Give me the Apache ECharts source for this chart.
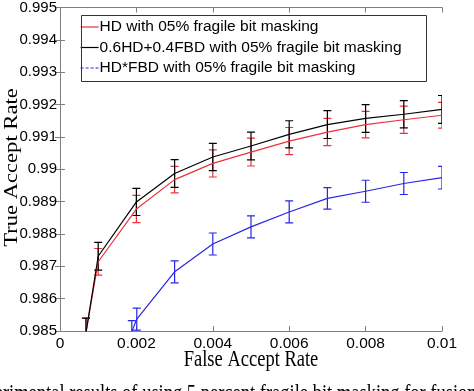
<!DOCTYPE html>
<html>
<head>
<meta charset="utf-8">
<script src="https://cdn.jsdelivr.net/npm/echarts@6/dist/echarts.min.js"></script>
<style>
html,body{margin:0;padding:0;background:#fff;}
#chart{width:474px;height:391px;}
</style>
</head>
<body>
<div id="chart"></div>
<script>
// ---- data ----
var seriesNames = ['HD with 05% fragile bit masking', '0.6HD+0.4FBD with 05% fragile bit masking', 'HD*FBD with 05% fragile bit masking'];
var xHD = [0.00068, 0.001, 0.002, 0.003, 0.004, 0.005, 0.006, 0.007, 0.008, 0.009, 0.01];
var hdValues = [0.98495, 0.98714, 0.98877, 0.98968, 0.99018, 0.99053, 0.99087, 0.99115, 0.99138, 0.99153, 0.99167];
var hdErr = [0.00045, 0.00041, 0.00042, 0.00041, 0.00042, 0.00043, 0.00042, 0.00042, 0.00041, 0.00042, 0.0004];
var fusedValues = [0.98495, 0.98731, 0.98899, 0.98987, 0.99038, 0.99072, 0.99108, 0.99138, 0.99157, 0.9917, 0.99185];
var fusedErr = [0.00045, 0.00043, 0.00042, 0.00043, 0.00042, 0.00043, 0.00042, 0.00043, 0.00043, 0.00042, 0.00043];
var xProd = [0.00188, 0.00201, 0.003, 0.004, 0.005, 0.006, 0.007, 0.008, 0.009, 0.01];
var prodValues = [0.98498, 0.98537, 0.98683, 0.98769, 0.98822, 0.98868, 0.9891, 0.98932, 0.98956, 0.98974];
var prodErr = [0.00034, 0.00034, 0.00034, 0.00034, 0.00034, 0.00034, 0.00033, 0.00034, 0.00034, 0.00035];
var xTicks = [0, 0.002, 0.004, 0.006, 0.008, 0.01];
var yTicks = [0.985, 0.986, 0.987, 0.988, 0.989, 0.99, 0.991, 0.992, 0.993, 0.994, 0.995];
var xTitle = 'False Accept Rate';
var yTitle = 'True Accept Rate';
var caption = 'experimental results of using 5 percent fragile bit masking for fusion';

var colors = ['#e8323c', '#000000', '#2626e6'];

function pairs(xs, ys) { return xs.map(function (x, i) { return [x, ys[i]]; }); }
function errData(xs, ys, es) { return xs.map(function (x, i) { return [x, ys[i] - es[i], ys[i] + es[i]]; }); }

function errSeries(data, color) {
  return {
    type: 'custom',
    clip: true,
    silent: true,
    z: 3,
    data: data,
    renderItem: function (params, api) {
      var x = api.value(0);
      var lo = api.coord([x, api.value(1)]);
      var hi = api.coord([x, api.value(2)]);
      var hw = 4;
      var st = { stroke: color, lineWidth: 1.2, fill: null };
      return {
        type: 'group',
        children: [
          { type: 'line', shape: { x1: lo[0], y1: lo[1], x2: hi[0], y2: hi[1] }, style: st },
          { type: 'line', shape: { x1: lo[0] - hw, y1: lo[1], x2: lo[0] + hw, y2: lo[1] }, style: st },
          { type: 'line', shape: { x1: hi[0] - hw, y1: hi[1], x2: hi[0] + hw, y2: hi[1] }, style: st }
        ]
      };
    }
  };
}

var fmtY = function (v) { return String(parseFloat(v.toFixed(3))); };
var fmtX = function (v) { return String(parseFloat(v.toFixed(3))); };

var axisLineStyle = { color: '#7f7f7f', width: 1 };
var chart = echarts.init(document.getElementById('chart'), null, { renderer: 'canvas' });
var option = {
  animation: false,
  backgroundColor: '#fff',
  grid: { left: 60, right: 32, top: 7, bottom: 60 },
  xAxis: [
    { type: 'value', min: xTicks[0], max: xTicks[xTicks.length - 1], interval: 0.002, position: 'bottom',
      axisLine: { lineStyle: axisLineStyle }, axisTick: { inside: true, length: 5, lineStyle: axisLineStyle },
      splitLine: { show: false },
      axisLabel: { color: '#000', fontFamily: 'Liberation Sans', fontSize: 15.5, margin: 5, formatter: fmtX } },
    { type: 'value', min: xTicks[0], max: xTicks[xTicks.length - 1], interval: 0.002, position: 'top',
      axisLine: { lineStyle: axisLineStyle }, axisTick: { inside: true, length: 5, lineStyle: axisLineStyle },
      splitLine: { show: false }, axisLabel: { show: false } }
  ],
  yAxis: [
    { type: 'value', min: yTicks[0], max: yTicks[yTicks.length - 1], interval: 0.001, position: 'left',
      axisLine: { show: true, lineStyle: axisLineStyle }, axisTick: { show: true, inside: true, length: 5, lineStyle: axisLineStyle },
      splitLine: { show: false },
      axisLabel: { color: '#000', fontFamily: 'Liberation Sans', fontSize: 15, margin: 3, formatter: fmtY } },
    { type: 'value', min: yTicks[0], max: yTicks[yTicks.length - 1], interval: 0.001, position: 'right',
      axisLine: { show: true, lineStyle: axisLineStyle }, axisTick: { show: true, inside: true, length: 5, lineStyle: axisLineStyle },
      splitLine: { show: false }, axisLabel: { show: false } }
  ],
  legend: {
    left: 80, top: 18.5, orient: 'vertical',
    itemWidth: 18, itemHeight: 14, itemGap: 3.5,
    padding: 0,
    itemStyle: { opacity: 0 },
    lineStyle: { width: 1.2 },
    textStyle: { fontFamily: 'Liberation Sans', fontSize: 15.5, color: '#000', lineHeight: 17, padding: [0, 0, 0, -4] },
    data: [
      { name: seriesNames[0] },
      { name: seriesNames[1] },
      { name: seriesNames[2], lineStyle: { type: [3, 2], width: 1.2 } }
    ]
  },
  graphic: [
    { type: 'rect', left: 79, top: 13, shape: { width: 345, height: 66 }, style: { fill: 'none', stroke: '#333', lineWidth: 1 }, z: 100 },
    { type: 'text', x: 251, y: 360, scaleY: 1.2, style: { text: xTitle, font: '18.5px "Liberation Serif"', fill: '#000', align: 'center', verticalAlign: 'middle' } },
    { type: 'text', x: 12, y: 167.5, rotation: Math.PI / 2, scaleX: 1.22, style: { text: yTitle, font: '18.5px "Liberation Serif"', fill: '#000', align: 'center', verticalAlign: 'middle' } },
    { type: 'text', x: -32, y: 383, scaleY: 1.2, style: { text: caption, font: '18.5px "Liberation Serif"', fill: '#000' } }
  ],
  series: [
    { name: seriesNames[0], type: 'line', data: pairs(xHD, hdValues), symbol: 'none', lineStyle: { color: colors[0], width: 1.2 }, itemStyle: { color: colors[0] }, z: 4 },
    { name: seriesNames[1], type: 'line', data: pairs(xHD, fusedValues), symbol: 'none', lineStyle: { color: colors[1], width: 1.2 }, itemStyle: { color: colors[1] }, z: 5 },
    { name: seriesNames[2], type: 'line', data: pairs(xProd, prodValues), symbol: 'none', lineStyle: { color: colors[2], width: 1.2 }, itemStyle: { color: colors[2] }, z: 4 },
    errSeries(errData(xHD, hdValues, hdErr), colors[0]),
    errSeries(errData(xHD, fusedValues, fusedErr), colors[1]),
    errSeries(errData(xProd, prodValues, prodErr), colors[2])
  ]
};
chart.setOption(option);
</script>
</body>
</html>
